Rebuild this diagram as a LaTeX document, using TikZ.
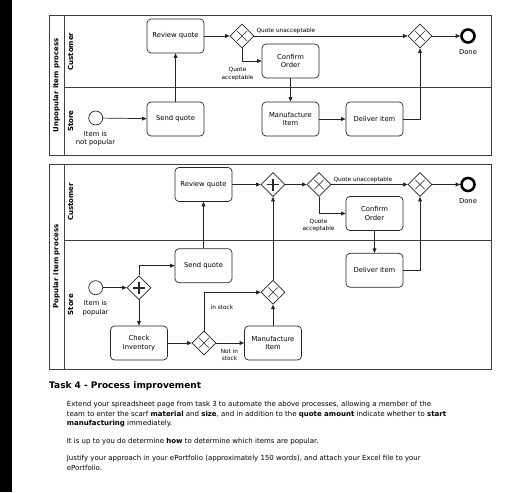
\documentclass[tikz,border=0pt]{standalone}
\usepackage{fontspec}
\setmainfont{DejaVu Sans}
\usetikzlibrary{shapes.geometric,arrows.meta}
\newcommand\bxf{\fontsize{6.8}{8.6}\selectfont}
\newcommand\lbf{\fontsize{5.8}{7.6}\selectfont}
\newcommand\plf{\fontsize{7}{8}\selectfont\bfseries}
\newcommand\hdf{\fontsize{9}{11}\selectfont\bfseries}
\newcommand\prf{\fontsize{7}{9}\selectfont}
\tikzset{
  taskbox/.style={draw=black!85, line width=0.7pt, rounded corners=4pt, minimum width=57pt, minimum height=34pt, inner sep=1pt, align=center, font=\bxf},
  gw/.style={draw=black!85, diamond, minimum width=24pt, minimum height=24pt, inner sep=0pt, line width=0.7pt},
  xgw/.style={gw, path picture={\draw[line width=0.45pt] (path picture bounding box.center) ++(-4.8pt,-4.8pt) -- ++(9.6pt,9.6pt) ++(-9.6pt,0pt) -- ++(9.6pt,-9.6pt);}},
  pgw/.style={gw, path picture={\draw[line width=1.7pt] (path picture bounding box.center) ++(-6pt,0pt) -- ++(12pt,0pt) (path picture bounding box.center) ++(0pt,-6pt) -- ++(0pt,12pt);}},
  startev/.style={circle, draw=black!85, line width=0.7pt, minimum size=14pt, inner sep=0pt},
  endev/.style={circle, draw=black, line width=2.6pt, minimum size=13pt, inner sep=0pt},
  arr/.style={-{Triangle[length=4.5pt,width=3.8pt]}, line width=0.7pt, draw=black!85},
  lbl/.style={font=\lbf, inner sep=0pt, align=center},
  evl/.style={font=\bxf, inner sep=0pt, align=center},
  pool/.style={draw=black!75, line width=0.8pt},
  poolt/.style={font=\plf, inner sep=0pt, rotate=90},
  para/.style={font=\prf, inner sep=0pt, anchor=base west}
}
\begin{document}
\begin{tikzpicture}[x=1pt,y=-1pt]
\useasboundingbox (0,0) rectangle (521,492);
\fill[white] (0,0) rectangle (521,492);
\fill[black] (0,0) rectangle (12,492);

% ---------- Pool 1 ----------
\draw[pool] (49,15.5) rectangle (491,155);
\draw[pool] (64,15.5) -- (64,155);
\draw[pool] (64,87.7) -- (491,87.7);
\node[poolt] (pl1) at (56.5,85.3) {Unpopular item process};
\node[poolt] (cl1) at (70.5,51.6) {Customer};
\node[poolt] (sl1) at (70.5,121.3) {Store};

\node[taskbox] (rq1) at (175.5,36) {Review quote};
\node[xgw] (g1) at (242,36) {};
\node[taskbox] (co1) at (290.5,61) {Confirm\\Order};
\node[taskbox] (mi1) at (290.5,119) {Manufacture\\Item};
\node[taskbox] (di1) at (374.5,119) {Deliver item};
\node[xgw] (g2) at (420,36) {};
\node[endev] (end1) at (468,36) {};
\node[startev] (st1) at (95.7,118) {};
\node[taskbox] (sq1) at (175.5,119) {Send quote};

\node[lbl, anchor=south west] (qu1) at ([xshift=2pt,yshift=2pt]g1.east) {Quote unacceptable};
\node[lbl] (qa1) at (237.5,74) {Quote\\acceptable};
\node[evl] (dn1) at (468,52) {Done};
\node[evl] (ip1) at (95.5,138.5) {Item is\\not popular};

\draw[arr] (st1) -- (sq1);
\draw[arr] (sq1) -- (rq1);
\draw[arr] (rq1) -- (g1);
\draw[arr] (g1.east) -- (g2.west);
\draw[arr] (g1.south) |- (co1.west);
\draw[arr] (co1) -- (mi1);
\draw[arr] (mi1) -- (di1);
\draw[arr] (di1.east) -| (g2.south);
\draw[arr] (g2.east) -- (end1);

% ---------- Pool 2 ----------
\draw[pool] (49,164) rectangle (491,369);
\draw[pool] (64,164) -- (64,369);
\draw[pool] (64,240) -- (491,240);
\node[poolt] (pl2) at (56.5,266.5) {Popular item process};
\node[poolt] (cl2) at (70.5,202) {Customer};
\node[poolt] (sl2) at (70.5,304.5) {Store};

\node[taskbox] (rq2) at (203.5,184.5) {Review quote};
\node[pgw] (p2) at (273,184.5) {};
\node[xgw] (g3) at (319,184.5) {};
\node[xgw] (g4) at (420,184.5) {};
\node[endev] (end2) at (468,184.5) {};
\node[taskbox] (co2) at (374.5,213.5) {Confirm\\Order};
\node[taskbox] (di2) at (374.5,270.3) {Deliver item};
\node[startev] (st2) at (95.7,287.7) {};
\node[pgw] (p1) at (139,287.7) {};
\node[taskbox] (sq2) at (203.5,265.7) {Send quote};
\node[taskbox] (ci) at (139,343) {Check\\Inventory};
\node[xgw] (g5) at (204,343) {};
\node[taskbox] (mi2) at (273,343) {Manufacture\\Item};
\node[xgw] (g6) at (273,292.3) {};

\node[lbl, anchor=south west] (qu2) at ([xshift=2pt,yshift=2pt]g3.east) {Quote unacceptable};
\node[lbl] (qa2) at (318.5,225.5) {Quote\\acceptable};
\node[evl] (dn2) at (468,200.7) {Done};
\node[evl] (ip2) at (95.5,308) {Item is\\popular};
\node[lbl] (is2) at (222,307.3) {in stock};
\node[lbl] (ns2) at (229.5,355) {Not in\\stock};

\draw[arr] (st2) -- (p1);
\draw[arr] (p1.north) |- (sq2.west);
\draw[arr] (p1.south) -- (ci.north);
\draw[arr] (sq2) -- (rq2);
\draw[arr] (rq2) -- (p2);
\draw[arr] (ci) -- (g5);
\draw[arr] (g5.east) -- (mi2.west);
\draw[arr] (g5.north) |- (g6.west);
\draw[arr] (mi2.north) -- (g6.south);
\draw[arr] (g6.north) -- (p2.south);
\draw[arr] (p2.east) -- (g3.west);
\draw[arr] (g3.east) -- (g4.west);
\draw[arr] (g3.south) |- (co2.west);
\draw[arr] (co2) -- (di2);
\draw[arr] (di2.east) -| (g4.south);
\draw[arr] (g4.east) -- (end2);

% ---------- Text ----------
\node[font=\hdf, inner sep=0pt, anchor=base west] (head) at (49,388.5) {Task 4 - Process improvement};
\node[para] (t1) at (66.7,406.3) {Extend your spreadsheet page from task 3 to automate the above processes, allowing a member of the};
\node[para] (t2) at (66.7,416.0) {team to enter the scarf \textbf{material} and \textbf{size}, and in addition to the \textbf{quote amount} indicate whether to \textbf{start}};
\node[para] (t3) at (66.7,425.6) {\textbf{manufacturing} immediately.};
\node[para] (t4) at (66.7,443.3) {It is up to you do determine \textbf{how} to determine which items are popular.};
\node[para] (t5) at (66.7,460.3) {Justify your approach in your ePortfolio (approximately 150 words), and attach your Excel file to your};
\node[para] (t6) at (66.7,470.0) {ePortfolio.};
\end{tikzpicture}
\end{document}
